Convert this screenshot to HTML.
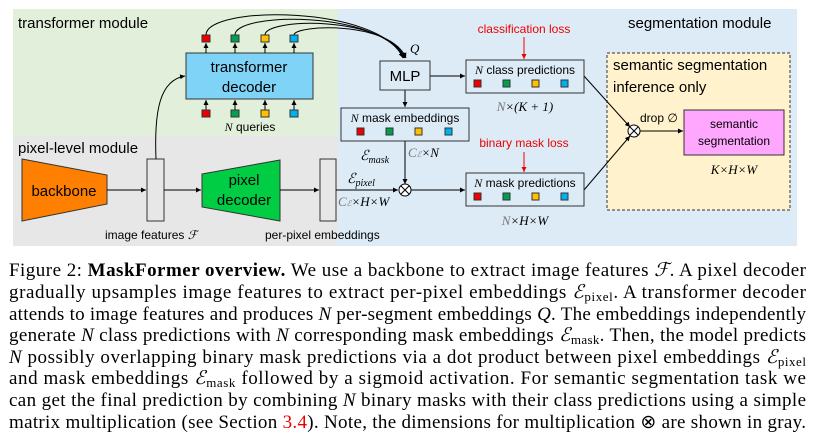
<!DOCTYPE html>
<html><head><meta charset="utf-8"><style>
html,body{margin:0;padding:0;background:#fff;width:816px;height:444px;overflow:hidden}
svg{display:block}
.s{font-family:"Liberation Sans",sans-serif}
.m{font-family:"Liberation Serif",serif;font-style:italic}
.c{font-family:"Liberation Serif",serif;font-size:19px;fill:#000}
</style></head><body>
<svg width="816" height="444" viewBox="0 0 816 444" xmlns="http://www.w3.org/2000/svg">
<defs><marker id="a" markerWidth="6" markerHeight="6" refX="5" refY="3" orient="auto"><path d="M0,0.5L5,3L0,5.5z" fill="#000"/></marker>
<marker id="r" markerWidth="6" markerHeight="6" refX="5" refY="3" orient="auto"><path d="M0,0.5L5,3L0,5.5z" fill="#e00"/></marker></defs>
<rect x="13" y="9" width="325" height="127" fill="#e2efda"/>
<rect x="13" y="136" width="325" height="110" fill="#e7e7e7"/>
<rect x="338" y="9" width="459" height="237" fill="#ddebf7"/>
<rect x="607" y="53" width="183" height="157" fill="#fff2cc" stroke="#333" stroke-dasharray="3,2"/>
<g class="s" font-size="15" fill="#000">
<text x="18" y="28">transformer module</text>
<text x="18" y="153">pixel-level module</text>
<text x="628" y="28">segmentation module</text>
</g>
<g fill="none" stroke="#000" stroke-width="1" marker-end="url(#a)">
<path d="M206,35 C206,5 380,5 403,58"/>
<path d="M235,35 C235,12 380,10 404,58"/>
<path d="M265,35 C265,18 385,15 405,58"/>
<path d="M294,35 C294,25 390,20 406,58"/>
</g>
<rect x="186" y="53" width="127" height="46" fill="#7fd3f7" stroke="#333"/>
<text class="s" font-size="15" x="249" y="72" text-anchor="middle">transformer</text>
<text class="s" font-size="15" x="249" y="92" text-anchor="middle">decoder</text>
<g stroke="#000" marker-end="url(#a)">
<line x1="206" y1="53" x2="206" y2="43"/><line x1="235" y1="53" x2="235" y2="43"/><line x1="265" y1="53" x2="265" y2="43"/><line x1="294" y1="53" x2="294" y2="43"/>
<line x1="206" y1="110" x2="206" y2="100"/><line x1="235" y1="110" x2="235" y2="100"/><line x1="265" y1="110" x2="265" y2="100"/><line x1="294" y1="110" x2="294" y2="100"/>
</g>
<g stroke="#333">
<rect x="202" y="35" width="8" height="7" fill="#e00"/><rect x="231" y="35" width="8" height="7" fill="#00a050"/><rect x="261" y="35" width="8" height="7" fill="#ffc000"/><rect x="290" y="35" width="8" height="7" fill="#00b0f0"/>
<rect x="202" y="110" width="8" height="7" fill="#e00"/><rect x="231" y="110" width="8" height="7" fill="#00a050"/><rect x="261" y="110" width="8" height="7" fill="#ffc000"/><rect x="290" y="110" width="8" height="7" fill="#00b0f0"/>
</g>
<text x="250" y="131" text-anchor="middle" font-size="12"><tspan class="m">N</tspan><tspan class="s"> queries</tspan></text>
<path d="M22,159 L107,175 L107,204 L22,221 Z" fill="#ff8000" stroke="#333"/>
<text class="s" font-size="15" x="64" y="196" text-anchor="middle">backbone</text>
<rect x="147" y="159" width="17" height="62" fill="#e7e7e7" stroke="#333"/>
<path d="M202,174 L280,160 L280,221 L202,207 Z" fill="#00cc44" stroke="#333"/>
<text class="s" font-size="15" x="244" y="185" text-anchor="middle">pixel</text>
<text class="s" font-size="15" x="244" y="205" text-anchor="middle">decoder</text>
<rect x="320" y="159" width="16" height="62" fill="#e7e7e7" stroke="#333"/>
<g stroke="#000" fill="none" marker-end="url(#a)">
<line x1="107" y1="190" x2="146" y2="190"/>
<line x1="164" y1="190" x2="201" y2="190"/>
<line x1="280" y1="190" x2="319" y2="190"/>
<path d="M156,159 C154,110 160,80 185,76"/>
<line x1="336" y1="190" x2="398" y2="190"/>
<line x1="430" y1="76" x2="465" y2="76"/>
<line x1="405" y1="90" x2="405" y2="107"/>
<line x1="405" y1="141" x2="405" y2="184"/>
<line x1="411" y1="190" x2="465" y2="190"/>
<line x1="584" y1="76" x2="630" y2="127"/>
<line x1="584" y1="190" x2="630" y2="136"/>
<line x1="640" y1="131" x2="683" y2="131"/>
</g>
<text class="s" font-size="12" x="105" y="239">image features <tspan class="m">ℱ</tspan></text>
<text class="s" font-size="12" x="265" y="239">per-pixel embeddings</text>
<rect x="380" y="61" width="50" height="29" fill="#ddebf7" stroke="#333"/>
<text class="s" font-size="15" x="405" y="81" text-anchor="middle">MLP</text>
<text class="m" font-size="13" x="410" y="53">Q</text>
<rect x="466" y="60" width="118" height="33" fill="#ddebf7" stroke="#333"/>
<text x="525" y="74" text-anchor="middle" font-size="12"><tspan class="m">N</tspan><tspan class="s"> class predictions</tspan></text>
<rect x="341" y="108" width="128" height="33" fill="#ddebf7" stroke="#333"/>
<text x="405" y="122" text-anchor="middle" font-size="12"><tspan class="m">N</tspan><tspan class="s"> mask embeddings</tspan></text>
<rect x="466" y="173" width="118" height="33" fill="#ddebf7" stroke="#333"/>
<text x="525" y="187" text-anchor="middle" font-size="12"><tspan class="m">N</tspan><tspan class="s"> mask predictions</tspan></text>
<g stroke="#333">
<rect x="474" y="80" width="7" height="7" fill="#e00"/><rect x="503" y="80" width="7" height="7" fill="#00a050"/><rect x="532" y="80" width="7" height="7" fill="#ffc000"/><rect x="561" y="80" width="7" height="7" fill="#00b0f0"/>
<rect x="474" y="193" width="7" height="7" fill="#e00"/><rect x="503" y="193" width="7" height="7" fill="#00a050"/><rect x="532" y="193" width="7" height="7" fill="#ffc000"/><rect x="561" y="193" width="7" height="7" fill="#00b0f0"/>
<rect x="357" y="128" width="7" height="7" fill="#e00"/><rect x="386" y="128" width="7" height="7" fill="#00a050"/><rect x="415" y="128" width="7" height="7" fill="#ffc000"/><rect x="445" y="128" width="7" height="7" fill="#00b0f0"/>
</g>
<text class="s" font-size="12" fill="#e00" x="524" y="33" text-anchor="middle">classification loss</text>
<text class="s" font-size="12" fill="#e00" x="524" y="147" text-anchor="middle">binary mask loss</text>
<g stroke="#e00" marker-end="url(#r)"><line x1="524" y1="37" x2="524" y2="59"/><line x1="524" y1="152" x2="524" y2="172"/></g>
<text class="m" font-size="13" x="525" y="111" text-anchor="middle"><tspan fill="#777">N</tspan>×(K + 1)</text>
<text class="m" font-size="13" x="525" y="225" text-anchor="middle"><tspan fill="#777">N</tspan>×H×W</text>
<text class="m" font-size="14" x="360" y="160">ℰ<tspan font-size="10" dy="3">mask</tspan></text>
<text class="m" font-size="13" x="408" y="157"><tspan fill="#777">C<tspan font-size="8">ℰ</tspan></tspan>×N</text>
<text class="m" font-size="14" x="347" y="183">ℰ<tspan font-size="10" dy="3">pixel</tspan></text>
<text class="m" font-size="13" x="338" y="206"><tspan fill="#777">C<tspan font-size="8">ℰ</tspan></tspan>×H×W</text>
<g fill="#fff" stroke="#000"><circle cx="405" cy="190" r="6"/><path d="M401,186L409,194M409,186L401,194"/></g>
<text class="s" font-size="15" x="613" y="70">semantic segmentation</text>
<text class="s" font-size="15" x="613" y="92">inference only</text>
<g fill="#fff" stroke="#000"><circle cx="634" cy="131" r="6"/><path d="M630,127L638,135M638,127L630,135"/></g>
<text class="s" font-size="12" x="640" y="122">drop ∅</text>
<rect x="684" y="110" width="100" height="45" fill="#ffa6ff" stroke="#333"/>
<text class="s" font-size="12" x="734" y="128" text-anchor="middle">semantic</text>
<text class="s" font-size="12" x="734" y="145" text-anchor="middle">segmentation</text>
<text class="m" font-size="13" x="734" y="174" text-anchor="middle">K×H×W</text>
<text class="c" x="9" y="276" textLength="797" lengthAdjust="spacing">Figure 2: <tspan font-weight="bold">MaskFormer overview.</tspan> We use a backbone to extract image features <tspan font-style="italic">ℱ</tspan>. A pixel decoder</text>
<text class="c" x="9" y="298" textLength="797" lengthAdjust="spacing">gradually upsamples image features to extract per-pixel embeddings <tspan font-style="italic">ℰ</tspan><tspan font-size="13" dy="3">pixel</tspan><tspan dy="-3">. A transformer decoder</tspan></text>
<text class="c" x="9" y="320" textLength="797" lengthAdjust="spacing">attends to image features and produces <tspan font-style="italic">N</tspan> per-segment embeddings <tspan font-style="italic">Q</tspan>. The embeddings independently</text>
<text class="c" x="9" y="341" textLength="797" lengthAdjust="spacing">generate <tspan font-style="italic">N</tspan> class predictions with <tspan font-style="italic">N</tspan> corresponding mask embeddings <tspan font-style="italic">ℰ</tspan><tspan font-size="13" dy="3">mask</tspan><tspan dy="-3">. Then, the model predicts</tspan></text>
<text class="c" x="9" y="363" textLength="797" lengthAdjust="spacing"><tspan font-style="italic">N</tspan> possibly overlapping binary mask predictions via a dot product between pixel embeddings <tspan font-style="italic">ℰ</tspan><tspan font-size="13" dy="3">pixel</tspan></text>
<text class="c" x="9" y="384" textLength="797" lengthAdjust="spacing">and mask embeddings <tspan font-style="italic">ℰ</tspan><tspan font-size="13" dy="3">mask</tspan><tspan dy="-3"> followed by a sigmoid activation. For semantic segmentation task we</tspan></text>
<text class="c" x="9" y="406" textLength="797" lengthAdjust="spacing">can get the final prediction by combining <tspan font-style="italic">N</tspan> binary masks with their class predictions using a simple</text>
<text class="c" x="9" y="428" textLength="797" lengthAdjust="spacing">matrix multiplication (see Section <tspan fill="#e00">3.4</tspan>). Note, the dimensions for multiplication ⊗ are shown in gray.</text>
</svg>
</body></html>
